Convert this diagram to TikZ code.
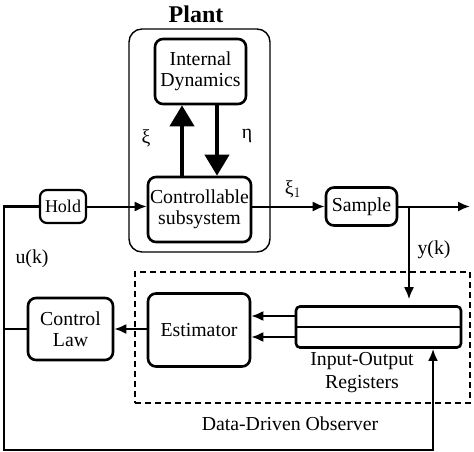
\documentclass[tikz,border=0pt]{standalone}
\usepackage{fontspec}
\setmainfont{Liberation Serif}
\usepackage{tikz}
\usetikzlibrary{arrows.meta}
\tikzset{
  blk/.style={draw, line width=2.6pt, rounded corners=8pt, inner sep=0pt, align=center, font=\fontsize{19.8}{21.5}\selectfont},
  smallblk/.style={blk, line width=2.2pt, rounded corners=7pt, font=\fontsize{18}{20}\selectfont},
  plantframe/.style={draw, line width=1.4pt, rounded corners=13pt, inner sep=0pt},
  obsframe/.style={draw, line width=1.8pt, dash pattern=on 6pt off 4pt, inner sep=0pt},
  lbl/.style={font=\fontsize{19.8}{23}\selectfont, align=center, inner sep=0pt},
  wire/.style={line width=2pt},
  flow/.style={wire, -{Latex[length=12pt,width=10pt]}},
  bigflow/.style={line width=4pt, -{Triangle[length=21pt,width=24pt]}},
}
\begin{document}
\begin{tikzpicture}[x=1pt,y=-1pt]
  \useasboundingbox (0,0) rectangle (474,452);
  % plant
  \node[plantframe, minimum width=141pt, minimum height=223pt] (plant) at (199.5,140.5) {};
  \node[lbl, font=\fontsize{24}{26}\selectfont\bfseries] (plantlbl) at (196,14) {Plant};
  \node[blk, minimum width=91pt, minimum height=65pt] (intdyn) at (200.5,71.5) {Internal\\Dynamics};
  \node[blk, minimum width=103pt, minimum height=65pt] (ctrl) at (199.5,209.5) {Controllable\\subsystem};
  % hold / sample
  \node[smallblk, minimum width=46pt, minimum height=33pt] (hold) at (63,206.5) {Hold};
  \node[blk, minimum width=71pt, minimum height=38pt] (sample) at (361.5,206.5) {Sample};
  % observer
  \node[obsframe, minimum width=335pt, minimum height=131pt] (obs) at (302.5,337.5) {};
  \node[blk, minimum width=102pt, minimum height=73pt] (est) at (199,330) {Estimator};
  \node[blk, rounded corners=4pt, minimum width=165pt, minimum height=41pt] (reg) at (378.5,327) {};
  \draw[wire] (reg.west) -- (reg.east);
  \node[lbl] (reglbl) at (362,372.5) {Input-Output\\Registers};
  \node[lbl] (obslbl) at (290,424) {Data-Driven Observer};
  \node[blk, minimum width=85pt, minimum height=62pt] (law) at (70.5,329) {Control\\Law};
  % labels
  \node[lbl] (xi) at (146,138) {ξ};
  \node[lbl] (eta) at (247,136) {η};
  \node[lbl] (xi1) at (293,189) {ξ$_1$};
  \node[lbl] (uk) at (32,259) {u(k)};
  \node[lbl] (yk) at (434,250) {y(k)};
  % coordinates
  \coordinate (out) at (470,206.5);
  \coordinate (br) at (409,206.5);
  \coordinate (lc) at (4,329);
  \coordinate (bl) at (4,450);
  \coordinate (ub) at (433,450);
  % arrows
  \draw[bigflow] ([xshift=-17.5pt]ctrl.north) -- ([xshift=-17.5pt]ctrl.north |- intdyn.south);
  \draw[bigflow] ([xshift=17.5pt]ctrl.north |- intdyn.south) -- ([xshift=17.5pt]ctrl.north);
  \draw[flow] (hold.east) -- (hold.east -| ctrl.west);
  \draw[flow] (ctrl.east |- sample.west) -- (sample.west);
  \draw[flow] (sample.east) -- (out);
  \draw[flow, shorten >=6pt] (br) -- (br |- reg.north);
  \draw[flow] ([yshift=11pt]reg.west) -- ([yshift=11pt]reg.west -| est.east);
  \draw[flow] ([yshift=-10pt]reg.west) -- ([yshift=-10pt]reg.west -| est.east);
  \draw[flow] (est.west |- law.east) -- (law.east);
  \draw[wire, line width=2.6pt] (law.west) -- (lc) |- (hold.west);
  \draw[flow, line width=2.6pt] (lc) -- (bl) -- (ub) -- (ub |- reg.south);
\end{tikzpicture}
\end{document}
